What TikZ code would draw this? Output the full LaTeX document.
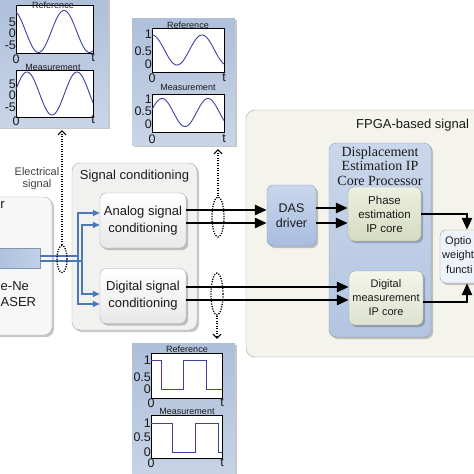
\documentclass[tikz,border=0pt]{standalone}
\usepackage{fontspec}
\setmainfont{Liberation Sans}
\newfontfamily\timesf{Liberation Serif}
\usetikzlibrary{arrows.meta,shapes.geometric,shadows,calc}
\definecolor{panelA}{HTML}{AEBFDA}
\definecolor{panelB}{HTML}{C9D5E7}
\definecolor{wavecol}{HTML}{3F3FA3}
\definecolor{bluelink}{HTML}{4A78B8}
\definecolor{boxgray}{HTML}{ABABAB}
\definecolor{sigfill}{HTML}{F1F1EF}
\definecolor{fpgafill}{HTML}{F4F4EC}
\definecolor{depA}{HTML}{CAD7EB}
\definecolor{depB}{HTML}{B3C5E1}
\definecolor{depline}{HTML}{8C9EC2}
\definecolor{dasA}{HTML}{CAD7EC}
\definecolor{dasB}{HTML}{A8BCDF}
\definecolor{phaseA}{HTML}{ECF0DF}
\definecolor{phaseB}{HTML}{D5DCC0}
\definecolor{measA}{HTML}{F4F5EC}
\definecolor{measB}{HTML}{DDE2D0}
\definecolor{optfill}{HTML}{EEF2FB}
\definecolor{laserA}{HTML}{A3B9DA}
\definecolor{laserB}{HTML}{C3D1E7}
\definecolor{txt}{HTML}{1A1A1A}
\tikzset{
  shad/.style={drop shadow={shadow xshift=2pt,shadow yshift=-2pt,opacity=0.22,fill=black}},
  panel/.style={draw=none,top color=panelA,bottom color=panelB,inner sep=0,shad},
  plotbox/.style={draw=black,line width=0.6pt,fill=white},
  wave/.style={draw=wavecol,line width=0.9pt},
  ax/.style={font=\fontsize{12.5}{14}\selectfont,inner sep=0.4pt,text=txt},
  ptitle/.style={font=\fontsize{9}{10}\selectfont,inner sep=0.5pt,text=txt},
  condbox/.style={draw=boxgray,rounded corners=6pt,top color=white,bottom color=black!9,inner sep=0,align=center,font=\fontsize{13}{17}\selectfont,text=txt,shad},
  bl/.style={draw=bluelink,line width=1.3pt},
  bla/.style={bl,-{Triangle[length=7pt,width=6pt]}},
  blk/.style={draw=black,line width=2.6pt,-{Triangle[length=12pt,width=10pt]}},
  ell/.style={ellipse,draw=black,line width=1.3pt,dash pattern=on 1.2pt off 1.3pt,inner sep=0},
  dotarr/.style={draw=black,line width=1.3pt,dash pattern=on 1.2pt off 1.3pt,-{Straight Barb[length=4pt,width=8pt,line width=1pt]}},
  opttext/.style={anchor=west,inner sep=0,text=txt,font=\fontsize{11}{14}\selectfont}
}
\begin{document}
\begin{tikzpicture}[x=1pt,y=-1pt,font=\fontsize{13}{15}\selectfont]
\useasboundingbox (0,0) rectangle (474,474);
\fill[white] (0,0) rectangle (474,474);

% ---------- left laser box ----------
\node[draw=boxgray,fill=black!3,rounded corners=8pt,minimum width=72pt,minimum height=138pt,inner sep=0,shad] (laserouter) at (16,266) {};
\node[inner sep=0,text=txt] (laserlbl) at (2.5,205) {r};
\node[draw=laserA!80!black,left color=laserA,right color=laserB,minimum width=60pt,minimum height=20pt,inner sep=0] (laser) at (10,258.5) {};
\node[anchor=west,inner sep=0,text=txt] (lt1) at (0.5,286) {e-Ne};
\node[anchor=west,inner sep=0,text=txt] (lt2) at (0.5,302) {ASER};

% ---------- signal conditioning ----------
\node[draw=boxgray,fill=sigfill,rounded corners=8pt,minimum width=125pt,minimum height=167pt,inner sep=0,shad] (sigcond) at (134.5,246.5) {};
\node[inner sep=0,text=txt] (sigtitle) at (134.5,176) {Signal conditioning};
\node[condbox,minimum width=86pt,minimum height=55pt] (analog) at (143,220.5) {Analog signal\\conditioning};
\node[condbox,minimum width=86pt,minimum height=55pt] (digital) at (143,296) {Digital signal\\conditioning};
\node[align=center,inner sep=0,text=black!75,font=\fontsize{11}{12}\selectfont] (elec) at (37,179) {Electrical\\signal};

% ---------- FPGA ----------
\node[draw=black!35,fill=fpgafill,rounded corners=9pt,minimum width=254pt,minimum height=247pt,inner sep=0] (fpga) at (373,233.5) {};
\node[anchor=west,inner sep=0,text=txt] (fpgat) at (356,125) {FPGA-based signal};
\node[draw=depline,top color=depA,bottom color=depB,rounded corners=7pt,minimum width=102pt,minimum height=194pt,inner sep=0,shad] (dep) at (380,240) {};
\node[align=center,inner sep=0,text=txt,font=\timesf\fontsize{14}{14.5}\selectfont] (deptitle) at (380,166) {Displacement\\Estimation IP\\Core Processor};
\node[draw=depline,top color=dasA,bottom color=dasB,rounded corners=6pt,minimum width=49pt,minimum height=61pt,inner sep=0,align=center,text=txt,font=\fontsize{12.5}{15}\selectfont,shad] (das) at (291.5,215.5) {DAS\\driver};
\node[draw=black!35,top color=phaseA,bottom color=phaseB,rounded corners=6pt,minimum width=73pt,minimum height=54pt,inner sep=0,align=center,text=txt,font=\fontsize{11.5}{14}\selectfont,shad] (phase) at (384.5,214) {Phase\\estimation\\IP core};
\node[draw=black!35,top color=measA,bottom color=measB,rounded corners=6pt,minimum width=74pt,minimum height=54pt,inner sep=0,align=center,text=txt,font=\fontsize{11}{14}\selectfont,shad] (digmeas) at (386,298) {Digital\\measurement\\IP core};
\node[draw=black!40,fill=optfill,rounded corners=6pt,minimum width=60pt,minimum height=53pt,inner sep=0,shad] (optimal) at (470,256.5) {};
\node[opttext] (opt1) at (445,242) {Optio};
\node[opttext] (opt2) at (442,256) {weight};
\node[opttext] (opt3) at (446,270) {functi};

% ---------- panel 1 ----------
\node[panel,minimum width=113pt,minimum height=132pt] (p1) at (51.5,61) {};
\draw[plotbox] (16,5) rectangle (93,53);
\draw[wave] plot[domain=16:93,samples=90,smooth] (\x,{31.5-21*cos((\x-13)/51*360)});
\draw[plotbox] (16,70) rectangle (93,117);
\draw[wave] plot[domain=16:93,samples=90,smooth] (\x,{93.5-21.5*cos((\x-27)/50*360)});
\node[ptitle] (p1t1) at (53,5) {Reference};
\node[ptitle] (p1t2) at (53,67) {Measurement};
\node[ax,anchor=east] (p1a) at (16.5,22) {5};
\node[ax,anchor=east] (p1b) at (16.5,33) {0};
\node[ax,anchor=east] (p1c) at (16.5,45) {-5};
\node[ax] (p1d) at (16,59) {0};
\node[ax] (p1e) at (93,58) {t};
\node[ax,anchor=east] (p1f) at (16.5,84) {5};
\node[ax,anchor=east] (p1g) at (16.5,95) {0};
\node[ax,anchor=east] (p1h) at (16.5,107.5) {-5};
\node[ax] (p1i) at (16,121) {0};
\node[ax] (p1j) at (93,120) {t};

% ---------- panel 2 ----------
\node[panel,minimum width=103pt,minimum height=127pt] (p2) at (183.5,81.5) {};
\draw[plotbox] (152,28) rectangle (224,72);
\draw[wave] plot[domain=152:224,samples=90,smooth] (\x,{50-15*cos((\x-152)/50*360)});
\draw[plotbox] (152,94) rectangle (224,132);
\draw[wave] plot[domain=152:224,samples=90,smooth] (\x,{112.5-14*cos((\x-162)/46*360)});
\node[ptitle] (p2t1) at (188,25) {Reference};
\node[ptitle] (p2t2) at (188,87) {Measurement};
\node[ax,anchor=east] (p2a) at (152.5,34) {1};
\node[ax,anchor=east] (p2b) at (152.5,51) {0.5};
\node[ax,anchor=east] (p2c) at (152.5,64) {0};
\node[ax] (p2d) at (152,78) {0};
\node[ax] (p2e) at (224,78) {t};
\node[ax,anchor=east] (p2f) at (152.5,99) {1};
\node[ax,anchor=east] (p2g) at (152.5,111) {0.5};
\node[ax,anchor=east] (p2h) at (152.5,124) {0};
\node[ax] (p2i) at (152,139) {0};
\node[ax] (p2j) at (224,139) {t};

% ---------- panel 3 ----------
\node[panel,minimum width=103pt,minimum height=147pt] (p3) at (183.5,416.5) {};
\draw[plotbox] (151,353) rectangle (222,398);
\draw[wave] (151,360) -- (161,360) -- (161,389) -- (183,389) -- (183,360) -- (206,360) -- (206,389) -- (222,389);
\draw[plotbox] (151,415) rectangle (222,458);
\draw[wave] (151,423) -- (172,423) -- (172,452) -- (195,452) -- (195,423) -- (218,423) -- (218,452) -- (222,452);
\node[ptitle] (p3t1) at (187,349) {Reference};
\node[ptitle] (p3t2) at (187,411) {Measurement};
\node[ax,anchor=east] (p3a) at (151.5,360) {1};
\node[ax,anchor=east] (p3b) at (151.5,377) {0.5};
\node[ax,anchor=east] (p3c) at (151.5,389) {0};
\node[ax] (p3d) at (151,403) {0};
\node[ax] (p3e) at (222,403) {t};
\node[ax,anchor=east] (p3f) at (151.5,423) {1};
\node[ax,anchor=east] (p3g) at (151.5,437) {0.5};
\node[ax,anchor=east] (p3h) at (151.5,452) {0};
\node[ax] (p3i) at (151,463) {0};
\node[ax] (p3j) at (222,463) {t};

% ---------- blue connectors ----------
\coordinate (bj1) at (78,256);
\coordinate (bj2) at (82,261);
\draw[bl] ([yshift=2.5pt]laser.east) -- (bj1);
\draw[bl] ([yshift=-2.5pt]laser.east) -- (bj2);
\draw[bla] (bj1) |- ([yshift=7.5pt]analog.west);
\draw[bla] (bj1) |- ([yshift=-8pt]digital.west);
\draw[bla] (bj2) |- ([yshift=-4.5pt]analog.west);
\draw[bla] (bj2) |- ([yshift=2pt]digital.west);

% ---------- black connectors ----------
\coordinate (a1) at ([yshift=10.5pt]analog.east);
\coordinate (a2) at ([yshift=-2.5pt]analog.east);
\draw[blk] (a1) -- (a1 -| das.west);
\draw[blk] (a2) -- (a2 -| das.west);
\coordinate (d1) at ([yshift=7.5pt]das.east);
\coordinate (d2) at ([yshift=-7.5pt]das.east);
\draw[blk] (d1) -- (d1 -| phase.west);
\draw[blk] (d2) -- (d2 -| phase.west);
\coordinate (g1) at ([yshift=9pt]digital.east);
\coordinate (g2) at ([yshift=-4pt]digital.east);
\draw[blk] (g1) -- (g1 -| digmeas.west);
\draw[blk] (g2) -- (g2 -| digmeas.west);
\draw[blk] (phase.east) -| ([xshift=-3pt]optimal.north);
\coordinate (m1) at ([yshift=-4pt]digmeas.east);
\draw[blk] (m1) -| ([xshift=-3pt]optimal.south);

% ---------- ellipses and dotted arrows ----------
\node[ell,minimum width=10pt,minimum height=27pt] (e1) at (62,259) {};
\node[ell,minimum width=12pt,minimum height=40pt] (e2) at (218,217) {};
\node[ell,minimum width=12pt,minimum height=42pt] (e3) at (217,294) {};
\draw[dotarr,shorten >=3pt] (e1.north) -- (e1.north |- p1.south);
\draw[dotarr,shorten >=4pt] (e2.north) -- (e2.north |- p2.south);
\draw[dotarr,shorten >=4pt] (e3.south) -- (e3.south |- p3.north);
\end{tikzpicture}
\end{document}
